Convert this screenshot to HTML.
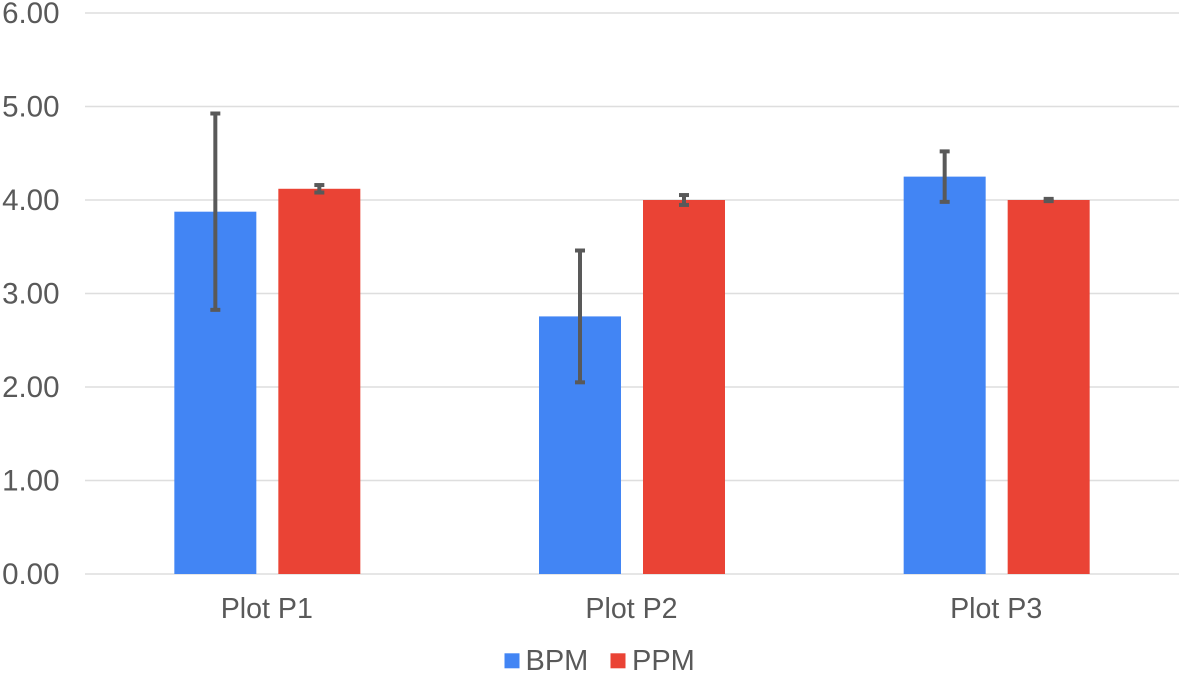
<!DOCTYPE html>
<html>
<head>
<meta charset="utf-8">
<style>
html,body{margin:0;padding:0;background:#fff;width:1181px;height:673px;overflow:hidden}
svg{display:block}
text{font-family:"Liberation Sans",Arial,sans-serif;fill:#595959}
</style>
</head>
<body>
<svg id="chart" width="1181" height="673" viewBox="0 0 1181 673" xmlns="http://www.w3.org/2000/svg"></svg>
<script>
const categories = ["Plot P1", "Plot P2", "Plot P3"];
const seriesNames = ["BPM", "PPM"];
const bpmValues = [3.875, 2.755, 4.25];
const ppmValues = [4.12, 4.00, 4.00];
const bpmErrors = [1.05, 0.705, 0.27];
const ppmErrors = [0.04, 0.053, 0.012];
const tickLabels = ["0.00", "1.00", "2.00", "3.00", "4.00", "5.00", "6.00"];
const tickValues = [0, 1, 2, 3, 4, 5, 6];

const NS = "http://www.w3.org/2000/svg";
const svg = document.getElementById("chart");
const colors = ["#4285f4", "#ea4335"];
const plotLeft = 85, plotRight = 1179, y0 = 574, yTop = 13;
const yScale = v => y0 - (v / 6) * (y0 - yTop);
const groupW = (plotRight - plotLeft) / categories.length;
const xCenter = i => plotLeft + groupW * (i + 0.5);
const barW = 82, barGap = 22;
const barX = (i, s) => xCenter(i) + (s === 0 ? -(barGap / 2 + barW) : barGap / 2);

function make(tag, attrs, text) {
  const el = document.createElementNS(NS, tag);
  for (const k in attrs) el.setAttribute(k, attrs[k]);
  if (text !== undefined) el.textContent = text;
  svg.appendChild(el);
  return el;
}

tickValues.forEach((v, i) => {
  const line = make("line", {x1: plotLeft, x2: plotRight, y1: yScale(v), y2: yScale(v), stroke: "#dedede", "stroke-width": 1.4});
  
  
  const label = make("text", {x: 59.5, y: yScale(v) + 10, "text-anchor": "end", "font-size": 29.5}, tickLabels[i]);
  
  
});

[bpmValues, ppmValues].forEach((vals, s) => {
  vals.forEach((v, i) => {
    const bar = make("rect", {x: barX(i, s), y: yScale(v), width: barW, height: y0 - yScale(v), fill: colors[s]});
    
    
  });
});

[bpmErrors, ppmErrors].forEach((errs, s) => {
  const vals = s === 0 ? bpmValues : ppmValues;
  errs.forEach((e, i) => {
    const cx = barX(i, s) + barW / 2;
    const hi = yScale(vals[i] + e), lo = yScale(vals[i] - e);
    const attrs = {stroke: "#595959"};
    const stem = make("line", {x1: cx, x2: cx, y1: hi, y2: lo, "stroke-width": 4, ...attrs});
    
    
    const capTop = make("line", {x1: cx - 5, x2: cx + 5, y1: hi, y2: hi, "stroke-width": 4, ...attrs});
    
    
    const capBottom = make("line", {x1: cx - 5, x2: cx + 5, y1: lo, y2: lo, "stroke-width": 4, ...attrs});
    
    
  });
});

categories.forEach((c, i) => {
  const label = make("text", {x: xCenter(i) - 0.5, y: 618, "text-anchor": "middle", "font-size": 28.6}, c);
  
  
});

const legendX = [504.5, 610.5];
const legendTextX = [525.5, 632];
seriesNames.forEach((n, s) => {
  const swatch = make("rect", {x: legendX[s], y: 653.3, width: 15, height: 15, fill: colors[s]});
  
  
  const label = make("text", {x: legendTextX[s], y: 670, "font-size": 29}, n);
  
  
});
</script>
</body>
</html>
